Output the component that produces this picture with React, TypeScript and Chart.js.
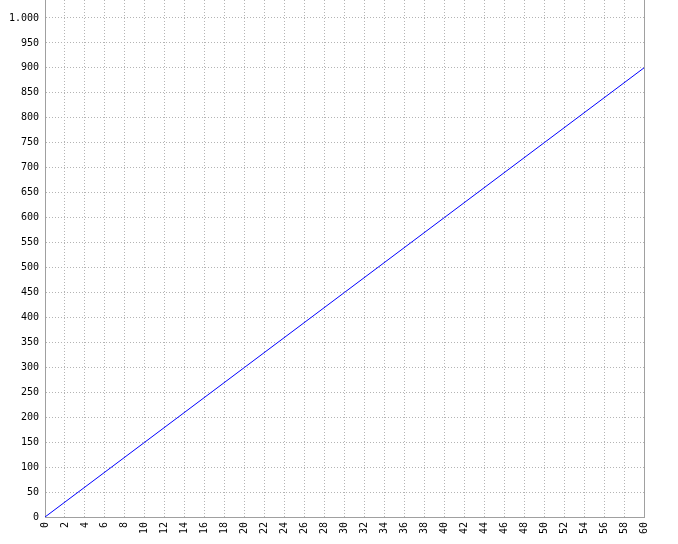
import React, { useEffect, useRef } from "react";
import { Chart, registerables } from "chart.js";

Chart.register(...registerables);

const xValues = [0, 10, 20, 30, 40, 50, 60];
const yValues = [0, 150, 300, 450, 600, 750, 900];

const X_MIN = 0;
const X_MAX = 60;
const X_STEP = 2;
const Y_MIN = 0;
const Y_MAX = 1036;
const Y_STEP = 50;

const FONT = { family: "'DejaVu Sans Mono', monospace", size: 10 };

function formatThousands(v: number): string {
  const s = String(Math.round(v));
  return s.replace(/\B(?=(\d{3})+(?!\d))/g, ".");
}

export default function App() {
  const ref = useRef<HTMLCanvasElement | null>(null);

  useEffect(() => {
    if (!ref.current) return;
    const chart = new Chart(ref.current, {
      type: "line",
      data: {
        datasets: [
          {
            data: xValues.map((x, i) => ({ x, y: yValues[i] })),
            borderColor: "#0000ff",
            borderWidth: 1,
            pointRadius: 0,
            tension: 0,
            fill: false,
          },
        ],
      },
      options: {
        animation: false,
        responsive: false,
        layout: { padding: { top: 0, left: 0, right: 34, bottom: 0 } },
        plugins: { legend: { display: false }, tooltip: { enabled: false } },
        scales: {
          x: {
            type: "linear",
            min: X_MIN,
            max: X_MAX,
            grid: { color: "#b4b4b4", drawTicks: false, lineWidth: 1 },
            border: { color: "#a0a0a0", width: 1, dash: [1, 2] },
            ticks: {
              stepSize: X_STEP,
              autoSkip: false,
              minRotation: 90,
              maxRotation: 90,
              padding: 5,
              color: "#000",
              font: FONT,
            },
            afterFit: (s: any) => {
              s.height = 27;
              s.paddingLeft = 0;
              s.paddingRight = 0;
            },
          },
          y: {
            type: "linear",
            position: "left",
            min: Y_MIN,
            max: Y_MAX,
            grid: { color: "#b4b4b4", drawTicks: false, lineWidth: 1 },
            border: { color: "#a0a0a0", width: 1, dash: [1, 2] },
            ticks: {
              stepSize: Y_STEP,
              includeBounds: false,
              padding: 6,
              color: "#000",
              font: FONT,
              callback: (v: any) => formatThousands(Number(v)),
            },
            afterFit: (s: any) => {
              s.width = 45;
              s.paddingTop = 0;
              s.paddingBottom = 0;
            },
          },
          y2: {
            type: "linear",
            position: "right",
            min: Y_MIN,
            max: Y_MAX,
            grid: { display: false, drawTicks: false },
            border: { display: true, color: "#a0a0a0", width: 1 },
            ticks: { display: false },
            afterFit: (s: any) => {
              s.width = 0;
              s.paddingTop = 0;
              s.paddingBottom = 0;
            },
          },
        },
      },
    } as any);
    return () => chart.destroy();
  }, []);

  return (
    <div style={{ position: "fixed", left: 0, top: 0, width: 678, height: 544, background: "#fff" }}>
      <canvas ref={ref} width={678} height={544} style={{ width: 678, height: 544, display: "block" }} />
    </div>
  );
}
